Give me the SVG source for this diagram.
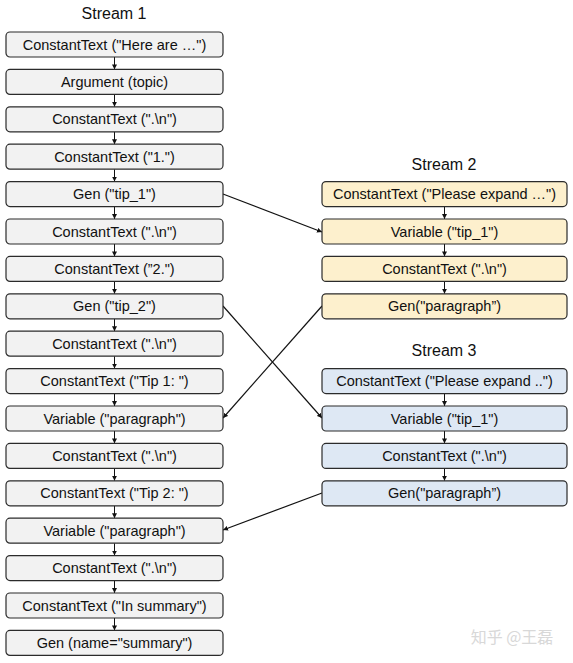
<svg xmlns="http://www.w3.org/2000/svg" width="573" height="663" viewBox="0 0 573 663">
<style>
.n rect{stroke:#2b2b2b;stroke-width:1.2}
.s1 rect{fill:#f2f2f2}
.s2 rect{fill:#fdf0cd}
.s3 rect{fill:#dee8f4}
text{font-family:"Liberation Sans",Arial,sans-serif;font-size:14.5px;fill:#111;text-anchor:middle}
.t{font-size:16px}
.c line{stroke:#111;stroke-width:1.2;marker-end:url(#a)}
.v line{stroke:#111;stroke-width:1;marker-end:url(#a)}
</style>
<defs>
<marker id="a" viewBox="0 0 10 10" refX="10" refY="5" markerWidth="5" markerHeight="5" orient="auto" markerUnits="userSpaceOnUse"><path d="M0,0L10,5L0,10z" fill="#111"/></marker>
</defs>
<rect width="573" height="663" fill="#fff"/>
<text class="t" x="114" y="19">Stream 1</text>
<text class="t" x="444" y="170">Stream 2</text>
<text class="t" x="444" y="356">Stream 3</text>

<g class="v">
<line x1="114.5" y1="57" x2="114.5" y2="69.4"/>
<line x1="114.5" y1="94.4" x2="114.5" y2="106.8"/>
<line x1="114.5" y1="131.8" x2="114.5" y2="144.2"/>
<line x1="114.5" y1="169.2" x2="114.5" y2="181.6"/>
<line x1="114.5" y1="206.6" x2="114.5" y2="219"/>
<line x1="114.5" y1="244" x2="114.5" y2="256.4"/>
<line x1="114.5" y1="281.4" x2="114.5" y2="293.8"/>
<line x1="114.5" y1="318.8" x2="114.5" y2="331.2"/>
<line x1="114.5" y1="356.2" x2="114.5" y2="368.6"/>
<line x1="114.5" y1="393.6" x2="114.5" y2="406"/>
<line x1="114.5" y1="431" x2="114.5" y2="443.4"/>
<line x1="114.5" y1="468.4" x2="114.5" y2="480.8"/>
<line x1="114.5" y1="505.8" x2="114.5" y2="518.2"/>
<line x1="114.5" y1="543.2" x2="114.5" y2="555.6"/>
<line x1="114.5" y1="580.6" x2="114.5" y2="593"/>
<line x1="114.5" y1="618" x2="114.5" y2="630.4"/>
<line x1="444.5" y1="206.6" x2="444.5" y2="219"/>
<line x1="444.5" y1="244" x2="444.5" y2="256.4"/>
<line x1="444.5" y1="281.4" x2="444.5" y2="293.8"/>
<line x1="444.5" y1="393.6" x2="444.5" y2="406"/>
<line x1="444.5" y1="431" x2="444.5" y2="443.4"/>
<line x1="444.5" y1="468.4" x2="444.5" y2="480.8"/>
</g>
<g class="c">
<line x1="223" y1="194" x2="322" y2="232"/>
<line x1="223" y1="306" x2="322" y2="418"/>
<line x1="322" y1="306" x2="223" y2="418"/>
<line x1="322" y1="493" x2="223" y2="530"/>
</g>

<g id="s1n0" class="n s1"><rect x="6" y="32" width="217" height="25" rx="4"/><text x="114.5" y="49.5">ConstantText ("Here are …")</text></g>
<g id="s1n1" class="n s1"><rect x="6" y="69.4" width="217" height="25" rx="4"/><text x="114.5" y="86.9">Argument (topic)</text></g>
<g id="s1n2" class="n s1"><rect x="6" y="106.8" width="217" height="25" rx="4"/><text x="114.5" y="124.3">ConstantText (".\n")</text></g>
<g id="s1n3" class="n s1"><rect x="6" y="144.2" width="217" height="25" rx="4"/><text x="114.5" y="161.7">ConstantText ("1.")</text></g>
<g id="s1n4" class="n s1"><rect x="6" y="181.6" width="217" height="25" rx="4"/><text x="114.5" y="199.1">Gen ("tip_1")</text></g>
<g id="s1n5" class="n s1"><rect x="6" y="219" width="217" height="25" rx="4"/><text x="114.5" y="236.5">ConstantText (".\n")</text></g>
<g id="s1n6" class="n s1"><rect x="6" y="256.4" width="217" height="25" rx="4"/><text x="114.5" y="273.9">ConstantText (”2.")</text></g>
<g id="s1n7" class="n s1"><rect x="6" y="293.8" width="217" height="25" rx="4"/><text x="114.5" y="311.3">Gen ("tip_2")</text></g>
<g id="s1n8" class="n s1"><rect x="6" y="331.2" width="217" height="25" rx="4"/><text x="114.5" y="348.7">ConstantText (".\n")</text></g>
<g id="s1n9" class="n s1"><rect x="6" y="368.6" width="217" height="25" rx="4"/><text x="114.5" y="386.1">ConstantText ("Tip 1: ")</text></g>
<g id="s1n10" class="n s1"><rect x="6" y="406" width="217" height="25" rx="4"/><text x="114.5" y="423.5">Variable ("paragraph")</text></g>
<g id="s1n11" class="n s1"><rect x="6" y="443.4" width="217" height="25" rx="4"/><text x="114.5" y="460.9">ConstantText (".\n")</text></g>
<g id="s1n12" class="n s1"><rect x="6" y="480.8" width="217" height="25" rx="4"/><text x="114.5" y="498.3">ConstantText ("Tip 2: ")</text></g>
<g id="s1n13" class="n s1"><rect x="6" y="518.2" width="217" height="25" rx="4"/><text x="114.5" y="535.7">Variable ("paragraph")</text></g>
<g id="s1n14" class="n s1"><rect x="6" y="555.6" width="217" height="25" rx="4"/><text x="114.5" y="573.1">ConstantText (".\n")</text></g>
<g id="s1n15" class="n s1"><rect x="6" y="593" width="217" height="25" rx="4"/><text x="114.5" y="610.5">ConstantText ("In summary")</text></g>
<g id="s1n16" class="n s1"><rect x="6" y="630.4" width="217" height="25" rx="4"/><text x="114.5" y="647.9">Gen (name="summary")</text></g>

<g id="s2n0" class="n s2"><rect x="322" y="181.6" width="245" height="25" rx="4"/><text x="444.5" y="199.1">ConstantText ("Please expand …")</text></g>
<g id="s2n1" class="n s2"><rect x="322" y="219" width="245" height="25" rx="4"/><text x="444.5" y="236.5">Variable ("tip_1")</text></g>
<g id="s2n2" class="n s2"><rect x="322" y="256.4" width="245" height="25" rx="4"/><text x="444.5" y="273.9">ConstantText (".\n")</text></g>
<g id="s2n3" class="n s2"><rect x="322" y="293.8" width="245" height="25" rx="4"/><text x="444.5" y="311.3">Gen("paragraph”)</text></g>

<g id="s3n0" class="n s3"><rect x="322" y="368.6" width="245" height="25" rx="4"/><text x="444.5" y="386.1">ConstantText ("Please expand ..")</text></g>
<g id="s3n1" class="n s3"><rect x="322" y="406" width="245" height="25" rx="4"/><text x="444.5" y="423.5">Variable ("tip_1")</text></g>
<g id="s3n2" class="n s3"><rect x="322" y="443.4" width="245" height="25" rx="4"/><text x="444.5" y="460.9">ConstantText (".\n")</text></g>
<g id="s3n3" class="n s3"><rect x="322" y="480.8" width="245" height="25" rx="4"/><text x="444.5" y="498.3">Gen("paragraph”)</text></g>

<text x="512" y="643" style="font-family:'Noto Sans CJK SC',sans-serif;font-size:16px;fill:#d8d8d8">知乎 @王磊</text>
</svg>
